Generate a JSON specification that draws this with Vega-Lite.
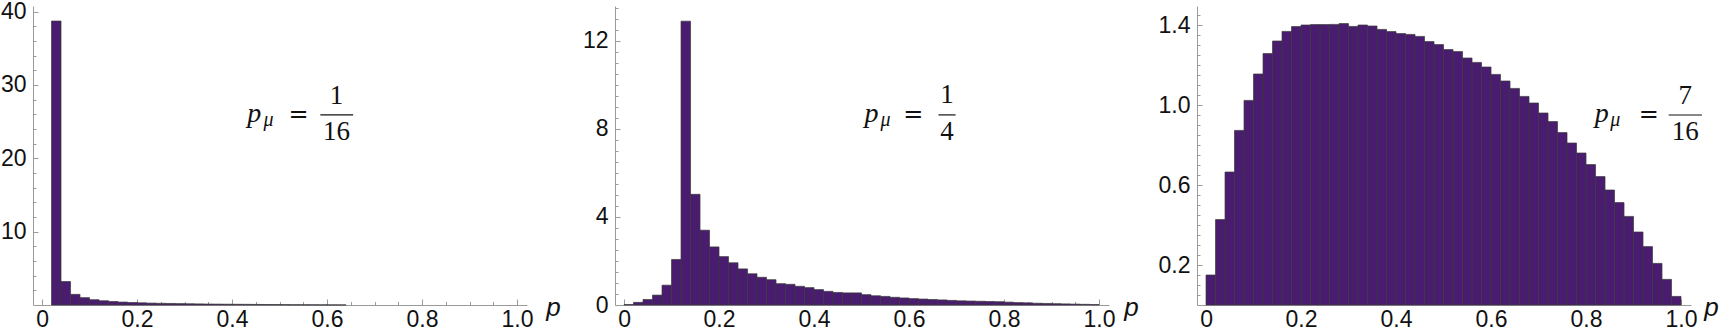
{
  "$schema": "https://vega.github.io/schema/vega-lite/v6.json",
  "padding": 0,
  "background": "white",
  "config": {
    "view": {"stroke": null},
    "axis": {
      "grid": false,
      "domainColor": "#9a9a9a",
      "tickColor": "#9a9a9a",
      "domainWidth": 1,
      "tickWidth": 1,
      "labelFont": "Liberation Sans",
      "labelFontSize": 23,
      "labelColor": "#111111",
      "labelFlush": false,
      "labelOverlap": false
    },
    "text": {"color": "#111111", "baseline": "alphabetic"}
  },
  "hconcat": [
    {
      "width": 494,
      "height": 299,
      "layer": [
        {
          "data": {"values": [
            {"lo": 0.02, "hi": 0.04, "density": 38.7},
            {"lo": 0.04, "hi": 0.06, "density": 3.2},
            {"lo": 0.06, "hi": 0.08, "density": 1.45},
            {"lo": 0.08, "hi": 0.10, "density": 1.0},
            {"lo": 0.10, "hi": 0.12, "density": 0.72},
            {"lo": 0.12, "hi": 0.14, "density": 0.58},
            {"lo": 0.14, "hi": 0.16, "density": 0.48},
            {"lo": 0.16, "hi": 0.18, "density": 0.40},
            {"lo": 0.18, "hi": 0.20, "density": 0.34},
            {"lo": 0.20, "hi": 0.22, "density": 0.30},
            {"lo": 0.22, "hi": 0.24, "density": 0.26},
            {"lo": 0.24, "hi": 0.26, "density": 0.23},
            {"lo": 0.26, "hi": 0.28, "density": 0.21},
            {"lo": 0.28, "hi": 0.30, "density": 0.19},
            {"lo": 0.30, "hi": 0.32, "density": 0.17},
            {"lo": 0.32, "hi": 0.34, "density": 0.15},
            {"lo": 0.34, "hi": 0.36, "density": 0.13},
            {"lo": 0.36, "hi": 0.38, "density": 0.12},
            {"lo": 0.38, "hi": 0.40, "density": 0.11},
            {"lo": 0.40, "hi": 0.42, "density": 0.10},
            {"lo": 0.42, "hi": 0.44, "density": 0.09},
            {"lo": 0.44, "hi": 0.46, "density": 0.08},
            {"lo": 0.46, "hi": 0.48, "density": 0.07},
            {"lo": 0.48, "hi": 0.50, "density": 0.06},
            {"lo": 0.50, "hi": 0.52, "density": 0.05},
            {"lo": 0.52, "hi": 0.54, "density": 0.04},
            {"lo": 0.54, "hi": 0.56, "density": 0.035},
            {"lo": 0.56, "hi": 0.58, "density": 0.03},
            {"lo": 0.58, "hi": 0.60, "density": 0.025},
            {"lo": 0.60, "hi": 0.62, "density": 0.02},
            {"lo": 0.62, "hi": 0.64, "density": 0.015}
          ]},
          "mark": {"type": "bar", "fill": "#4a1c6f", "stroke": "#3a3a3a", "strokeWidth": 0.7},
          "encoding": {
            "x": {"field": "lo", "type": "quantitative",
              "scale": {"domain": [-0.019, 1.021], "nice": false, "zero": false},
              "axis": {"orient": "bottom", "values": [0, 0.2, 0.4, 0.6, 0.8, 1.0],
                "labelExpr": "datum.value == 0 ? '0' : format(datum.value, '.1f')",
                "tickSize": -6, "labelPadding": 9, "labelBaseline": "top",
                "title": "p", "titleFont": "Liberation Sans", "titleFontStyle": "italic", "titleFontWeight": "normal",
                "titleFontSize": 26, "titleColor": "#111111", "titleX": 520, "titleY": 10,
                "titleAlign": "center", "titleBaseline": "alphabetic"}},
            "x2": {"field": "hi"},
            "y": {"field": "density", "type": "quantitative",
              "scale": {"domain": [0, 40.75], "nice": false},
              "axis": {"orient": "left", "values": [10, 20, 30, 40], "tickSize": -5, "labelPadding": 12, "title": null}},
            "y2": {"datum": 0}
          }
        },
        {
          "data": {"values": [{}]},
          "mark": {"type": "point", "opacity": 0},
          "encoding": {
            "x": {"datum": 0.5, "type": "quantitative",
              "axis": {"orient": "bottom", "values": [0.05,0.1,0.15,0.25,0.3,0.35,0.45,0.5,0.55,0.65,0.7,0.75,0.85,0.9,0.95], "labels": false, "domain": false, "tickSize": -3.5, "title": null}},
            "y": {"datum": 1, "type": "quantitative",
              "axis": {"orient": "left", "values": [2,4,6,8,12,14,16,18,22,24,26,28,32,34,36,38], "labels": false, "domain": false, "tickSize": -3, "title": null}}
          }
        },
        {
          "data": {"values": [{}]},
          "mark": {"type": "text", "text": "p", "font": "Liberation Serif", "fontStyle": "italic", "fontSize": 28, "align": "center"},
          "encoding": {"x": {"datum": 0.447, "type": "quantitative", "axis": null}, "y": {"datum": 24.98, "type": "quantitative", "axis": null}}
        },
        {
          "data": {"values": [{}]},
          "mark": {"type": "text", "text": "μ", "font": "Liberation Serif", "fontStyle": "italic", "fontSize": 20, "align": "left"},
          "encoding": {"x": {"datum": 0.466, "type": "quantitative", "axis": null}, "y": {"datum": 24.4, "type": "quantitative", "axis": null}}
        },
        {
          "data": {"values": [{}]},
          "mark": {"type": "text", "text": "=", "font": "DejaVu Serif", "fontSize": 24, "align": "center"},
          "encoding": {"x": {"datum": 0.540, "type": "quantitative", "axis": null}, "y": {"datum": 24.98, "type": "quantitative", "axis": null}}
        },
        {
          "data": {"values": [{}]},
          "mark": {"type": "text", "text": "1", "font": "Liberation Serif", "fontSize": 27, "align": "center"},
          "encoding": {"x": {"datum": 0.620, "type": "quantitative", "axis": null}, "y": {"datum": 27.46, "type": "quantitative", "axis": null}}
        },
        {
          "data": {"values": [{}]},
          "mark": {"type": "text", "text": "16", "font": "Liberation Serif", "fontSize": 27, "align": "center"},
          "encoding": {"x": {"datum": 0.620, "type": "quantitative", "axis": null}, "y": {"datum": 22.49, "type": "quantitative", "axis": null}}
        },
        {
          "data": {"values": [{}]},
          "mark": {"type": "rule", "strokeWidth": 1.2, "color": "#111111"},
          "encoding": {"x": {"datum": 0.586, "type": "quantitative", "axis": null}, "x2": {"datum": 0.655}, "y": {"datum": 25.9, "type": "quantitative", "axis": null}}
        }
      ],
      "resolve": {"axis": {"x": "independent", "y": "independent"}}
    },
    {
      "width": 494,
      "height": 299,
      "layer": [
        {
          "data": {"values": [
            {"lo": 0.00, "hi": 0.02, "density": 0.02},
            {"lo": 0.02, "hi": 0.04, "density": 0.12},
            {"lo": 0.04, "hi": 0.06, "density": 0.25},
            {"lo": 0.06, "hi": 0.08, "density": 0.45},
            {"lo": 0.08, "hi": 0.10, "density": 0.9},
            {"lo": 0.10, "hi": 0.12, "density": 2.07},
            {"lo": 0.12, "hi": 0.14, "density": 12.9},
            {"lo": 0.14, "hi": 0.16, "density": 5.03},
            {"lo": 0.16, "hi": 0.18, "density": 3.4},
            {"lo": 0.18, "hi": 0.20, "density": 2.64},
            {"lo": 0.20, "hi": 0.22, "density": 2.2},
            {"lo": 0.22, "hi": 0.24, "density": 1.92},
            {"lo": 0.24, "hi": 0.26, "density": 1.64},
            {"lo": 0.26, "hi": 0.28, "density": 1.42},
            {"lo": 0.28, "hi": 0.30, "density": 1.26},
            {"lo": 0.30, "hi": 0.32, "density": 1.15},
            {"lo": 0.32, "hi": 0.34, "density": 0.97},
            {"lo": 0.34, "hi": 0.36, "density": 0.94},
            {"lo": 0.36, "hi": 0.38, "density": 0.85},
            {"lo": 0.38, "hi": 0.40, "density": 0.79},
            {"lo": 0.40, "hi": 0.42, "density": 0.70},
            {"lo": 0.42, "hi": 0.44, "density": 0.62},
            {"lo": 0.44, "hi": 0.46, "density": 0.57},
            {"lo": 0.46, "hi": 0.48, "density": 0.55},
            {"lo": 0.48, "hi": 0.50, "density": 0.55},
            {"lo": 0.50, "hi": 0.52, "density": 0.47},
            {"lo": 0.52, "hi": 0.54, "density": 0.42},
            {"lo": 0.54, "hi": 0.56, "density": 0.39},
            {"lo": 0.56, "hi": 0.58, "density": 0.35},
            {"lo": 0.58, "hi": 0.60, "density": 0.32},
            {"lo": 0.60, "hi": 0.62, "density": 0.29},
            {"lo": 0.62, "hi": 0.64, "density": 0.27},
            {"lo": 0.64, "hi": 0.66, "density": 0.25},
            {"lo": 0.66, "hi": 0.68, "density": 0.23},
            {"lo": 0.68, "hi": 0.70, "density": 0.21},
            {"lo": 0.70, "hi": 0.72, "density": 0.19},
            {"lo": 0.72, "hi": 0.74, "density": 0.18},
            {"lo": 0.74, "hi": 0.76, "density": 0.17},
            {"lo": 0.76, "hi": 0.78, "density": 0.16},
            {"lo": 0.78, "hi": 0.80, "density": 0.15},
            {"lo": 0.80, "hi": 0.82, "density": 0.13},
            {"lo": 0.82, "hi": 0.84, "density": 0.11},
            {"lo": 0.84, "hi": 0.86, "density": 0.10},
            {"lo": 0.86, "hi": 0.88, "density": 0.08},
            {"lo": 0.88, "hi": 0.90, "density": 0.07},
            {"lo": 0.90, "hi": 0.92, "density": 0.06},
            {"lo": 0.92, "hi": 0.94, "density": 0.05},
            {"lo": 0.94, "hi": 0.96, "density": 0.04},
            {"lo": 0.96, "hi": 0.98, "density": 0.03},
            {"lo": 0.98, "hi": 1.00, "density": 0.02}
          ]},
          "mark": {"type": "bar", "fill": "#4a1c6f", "stroke": "#3a3a3a", "strokeWidth": 0.7},
          "encoding": {
            "x": {"field": "lo", "type": "quantitative",
              "scale": {"domain": [-0.019, 1.021], "nice": false, "zero": false},
              "axis": {"orient": "bottom", "values": [0, 0.2, 0.4, 0.6, 0.8, 1.0],
                "labelExpr": "datum.value == 0 ? '0' : format(datum.value, '.1f')",
                "tickSize": -6, "labelPadding": 9, "labelBaseline": "top",
                "title": "p", "titleFont": "Liberation Sans", "titleFontStyle": "italic", "titleFontWeight": "normal",
                "titleFontSize": 26, "titleColor": "#111111", "titleX": 516, "titleY": 10,
                "titleAlign": "center", "titleBaseline": "alphabetic"}},
            "x2": {"field": "hi"},
            "y": {"field": "density", "type": "quantitative",
              "scale": {"domain": [0, 13.59], "nice": false},
              "axis": {"orient": "left", "values": [0, 4, 8, 12], "tickSize": -5, "labelPadding": 12, "title": null}},
            "y2": {"datum": 0}
          }
        },
        {
          "data": {"values": [{}]},
          "mark": {"type": "point", "opacity": 0},
          "encoding": {
            "x": {"datum": 0.5, "type": "quantitative",
              "axis": {"orient": "bottom", "values": [0.05,0.1,0.15,0.25,0.3,0.35,0.45,0.5,0.55,0.65,0.7,0.75,0.85,0.9,0.95], "labels": false, "domain": false, "tickSize": -3.5, "title": null}},
            "y": {"datum": 1, "type": "quantitative",
              "axis": {"orient": "left", "values": [0.5,1,1.5,2,2.5,3,3.5,4.5,5,5.5,6,6.5,7,7.5,8.5,9,9.5,10,10.5,11,11.5,12.5,13,13.5], "labels": false, "domain": false, "tickSize": -3, "title": null}}
          }
        },
        {
          "data": {"values": [{}]},
          "mark": {"type": "text", "text": "p", "font": "Liberation Serif", "fontStyle": "italic", "fontSize": 28, "align": "center"},
          "encoding": {"x": {"datum": 0.521, "type": "quantitative", "axis": null}, "y": {"datum": 8.33, "type": "quantitative", "axis": null}}
        },
        {
          "data": {"values": [{}]},
          "mark": {"type": "text", "text": "μ", "font": "Liberation Serif", "fontStyle": "italic", "fontSize": 20, "align": "left"},
          "encoding": {"x": {"datum": 0.540, "type": "quantitative", "axis": null}, "y": {"datum": 8.14, "type": "quantitative", "axis": null}}
        },
        {
          "data": {"values": [{}]},
          "mark": {"type": "text", "text": "=", "font": "DejaVu Serif", "fontSize": 24, "align": "center"},
          "encoding": {"x": {"datum": 0.609, "type": "quantitative", "axis": null}, "y": {"datum": 8.33, "type": "quantitative", "axis": null}}
        },
        {
          "data": {"values": [{}]},
          "mark": {"type": "text", "text": "1", "font": "Liberation Serif", "fontSize": 27, "align": "center"},
          "encoding": {"x": {"datum": 0.680, "type": "quantitative", "axis": null}, "y": {"datum": 9.16, "type": "quantitative", "axis": null}}
        },
        {
          "data": {"values": [{}]},
          "mark": {"type": "text", "text": "4", "font": "Liberation Serif", "fontSize": 27, "align": "center"},
          "encoding": {"x": {"datum": 0.680, "type": "quantitative", "axis": null}, "y": {"datum": 7.5, "type": "quantitative", "axis": null}}
        },
        {
          "data": {"values": [{}]},
          "mark": {"type": "rule", "strokeWidth": 1.2, "color": "#111111"},
          "encoding": {"x": {"datum": 0.662, "type": "quantitative", "axis": null}, "x2": {"datum": 0.698}, "y": {"datum": 8.64, "type": "quantitative", "axis": null}}
        }
      ],
      "resolve": {"axis": {"x": "independent", "y": "independent"}}
    },
    {
      "width": 494,
      "height": 299,
      "layer": [
        {
          "data": {"values": [
            {"lo": 0.00, "hi": 0.02, "density": 0.15},
            {"lo": 0.02, "hi": 0.04, "density": 0.427},
            {"lo": 0.04, "hi": 0.06, "density": 0.665},
            {"lo": 0.06, "hi": 0.08, "density": 0.873},
            {"lo": 0.08, "hi": 0.10, "density": 1.023},
            {"lo": 0.10, "hi": 0.12, "density": 1.155},
            {"lo": 0.12, "hi": 0.14, "density": 1.257},
            {"lo": 0.14, "hi": 0.16, "density": 1.32},
            {"lo": 0.16, "hi": 0.18, "density": 1.368},
            {"lo": 0.18, "hi": 0.20, "density": 1.392},
            {"lo": 0.20, "hi": 0.22, "density": 1.40},
            {"lo": 0.22, "hi": 0.24, "density": 1.402},
            {"lo": 0.24, "hi": 0.26, "density": 1.402},
            {"lo": 0.26, "hi": 0.28, "density": 1.403},
            {"lo": 0.28, "hi": 0.30, "density": 1.407},
            {"lo": 0.30, "hi": 0.32, "density": 1.393},
            {"lo": 0.32, "hi": 0.34, "density": 1.40},
            {"lo": 0.34, "hi": 0.36, "density": 1.395},
            {"lo": 0.36, "hi": 0.38, "density": 1.378},
            {"lo": 0.38, "hi": 0.40, "density": 1.367},
            {"lo": 0.40, "hi": 0.42, "density": 1.357},
            {"lo": 0.42, "hi": 0.44, "density": 1.353},
            {"lo": 0.44, "hi": 0.46, "density": 1.343},
            {"lo": 0.46, "hi": 0.48, "density": 1.317},
            {"lo": 0.48, "hi": 0.50, "density": 1.302},
            {"lo": 0.50, "hi": 0.52, "density": 1.277},
            {"lo": 0.52, "hi": 0.54, "density": 1.267},
            {"lo": 0.54, "hi": 0.56, "density": 1.235},
            {"lo": 0.56, "hi": 0.58, "density": 1.213},
            {"lo": 0.58, "hi": 0.60, "density": 1.19},
            {"lo": 0.60, "hi": 0.62, "density": 1.153},
            {"lo": 0.62, "hi": 0.64, "density": 1.12},
            {"lo": 0.64, "hi": 0.66, "density": 1.083},
            {"lo": 0.66, "hi": 0.68, "density": 1.043},
            {"lo": 0.68, "hi": 0.70, "density": 1.01},
            {"lo": 0.70, "hi": 0.72, "density": 0.96},
            {"lo": 0.72, "hi": 0.74, "density": 0.917},
            {"lo": 0.74, "hi": 0.76, "density": 0.862},
            {"lo": 0.76, "hi": 0.78, "density": 0.81},
            {"lo": 0.78, "hi": 0.80, "density": 0.76},
            {"lo": 0.80, "hi": 0.82, "density": 0.702},
            {"lo": 0.82, "hi": 0.84, "density": 0.642},
            {"lo": 0.84, "hi": 0.86, "density": 0.575},
            {"lo": 0.86, "hi": 0.88, "density": 0.512},
            {"lo": 0.88, "hi": 0.90, "density": 0.443},
            {"lo": 0.90, "hi": 0.92, "density": 0.365},
            {"lo": 0.92, "hi": 0.94, "density": 0.292},
            {"lo": 0.94, "hi": 0.96, "density": 0.208},
            {"lo": 0.96, "hi": 0.98, "density": 0.128},
            {"lo": 0.98, "hi": 1.00, "density": 0.043}
          ]},
          "mark": {"type": "bar", "fill": "#4a1c6f", "stroke": "#3a3a3a", "strokeWidth": 0.7},
          "encoding": {
            "x": {"field": "lo", "type": "quantitative",
              "scale": {"domain": [-0.019, 1.021], "nice": false, "zero": false},
              "axis": {"orient": "bottom", "values": [0, 0.2, 0.4, 0.6, 0.8, 1.0],
                "labelExpr": "datum.value == 0 ? '0' : format(datum.value, '.1f')",
                "tickSize": -6, "labelPadding": 9, "labelBaseline": "top",
                "title": "p", "titleFont": "Liberation Sans", "titleFontStyle": "italic", "titleFontWeight": "normal",
                "titleFontSize": 26, "titleColor": "#111111", "titleX": 514, "titleY": 10,
                "titleAlign": "center", "titleBaseline": "alphabetic"}},
            "x2": {"field": "hi"},
            "y": {"field": "density", "type": "quantitative",
              "scale": {"domain": [0, 1.495], "nice": false},
              "axis": {"orient": "left", "values": [0.2, 0.6, 1.0, 1.4], "format": ".1f", "tickSize": -5, "labelPadding": 12, "title": null}},
            "y2": {"datum": 0}
          }
        },
        {
          "data": {"values": [{}]},
          "mark": {"type": "point", "opacity": 0},
          "encoding": {
            "x": {"datum": 0.5, "type": "quantitative",
              "axis": {"orient": "bottom", "values": [0.05,0.1,0.15,0.25,0.3,0.35,0.45,0.5,0.55,0.65,0.7,0.75,0.85,0.9,0.95], "labels": false, "domain": false, "tickSize": -3.5, "title": null}},
            "y": {"datum": 0.5, "type": "quantitative",
              "axis": {"orient": "left", "values": [0.05,0.1,0.15,0.25,0.3,0.35,0.4,0.45,0.5,0.55,0.65,0.7,0.75,0.8,0.85,0.9,0.95,1.05,1.1,1.15,1.2,1.25,1.3,1.35,1.45], "labels": false, "domain": false, "tickSize": -3, "title": null}}
          }
        },
        {
          "data": {"values": [{}]},
          "mark": {"type": "text", "text": "p", "font": "Liberation Serif", "fontStyle": "italic", "fontSize": 28, "align": "center"},
          "encoding": {"x": {"datum": 0.833, "type": "quantitative", "axis": null}, "y": {"datum": 0.916, "type": "quantitative", "axis": null}}
        },
        {
          "data": {"values": [{}]},
          "mark": {"type": "text", "text": "μ", "font": "Liberation Serif", "fontStyle": "italic", "fontSize": 20, "align": "left"},
          "encoding": {"x": {"datum": 0.851, "type": "quantitative", "axis": null}, "y": {"datum": 0.895, "type": "quantitative", "axis": null}}
        },
        {
          "data": {"values": [{}]},
          "mark": {"type": "text", "text": "=", "font": "DejaVu Serif", "fontSize": 24, "align": "center"},
          "encoding": {"x": {"datum": 0.932, "type": "quantitative", "axis": null}, "y": {"datum": 0.916, "type": "quantitative", "axis": null}}
        },
        {
          "data": {"values": [{}]},
          "mark": {"type": "text", "text": "7", "font": "Liberation Serif", "fontSize": 27, "align": "center"},
          "encoding": {"x": {"datum": 1.009, "type": "quantitative", "axis": null}, "y": {"datum": 1.0075, "type": "quantitative", "axis": null}}
        },
        {
          "data": {"values": [{}]},
          "mark": {"type": "text", "text": "16", "font": "Liberation Serif", "fontSize": 27, "align": "center"},
          "encoding": {"x": {"datum": 1.009, "type": "quantitative", "axis": null}, "y": {"datum": 0.825, "type": "quantitative", "axis": null}}
        },
        {
          "data": {"values": [{}]},
          "mark": {"type": "rule", "strokeWidth": 1.2, "color": "#111111"},
          "encoding": {"x": {"datum": 0.974, "type": "quantitative", "axis": null}, "x2": {"datum": 1.044}, "y": {"datum": 0.95, "type": "quantitative", "axis": null}}
        }
      ],
      "resolve": {"axis": {"x": "independent", "y": "independent"}}
    }
  ],
  "spacing": 88,
  "bounds": "flush"
}
